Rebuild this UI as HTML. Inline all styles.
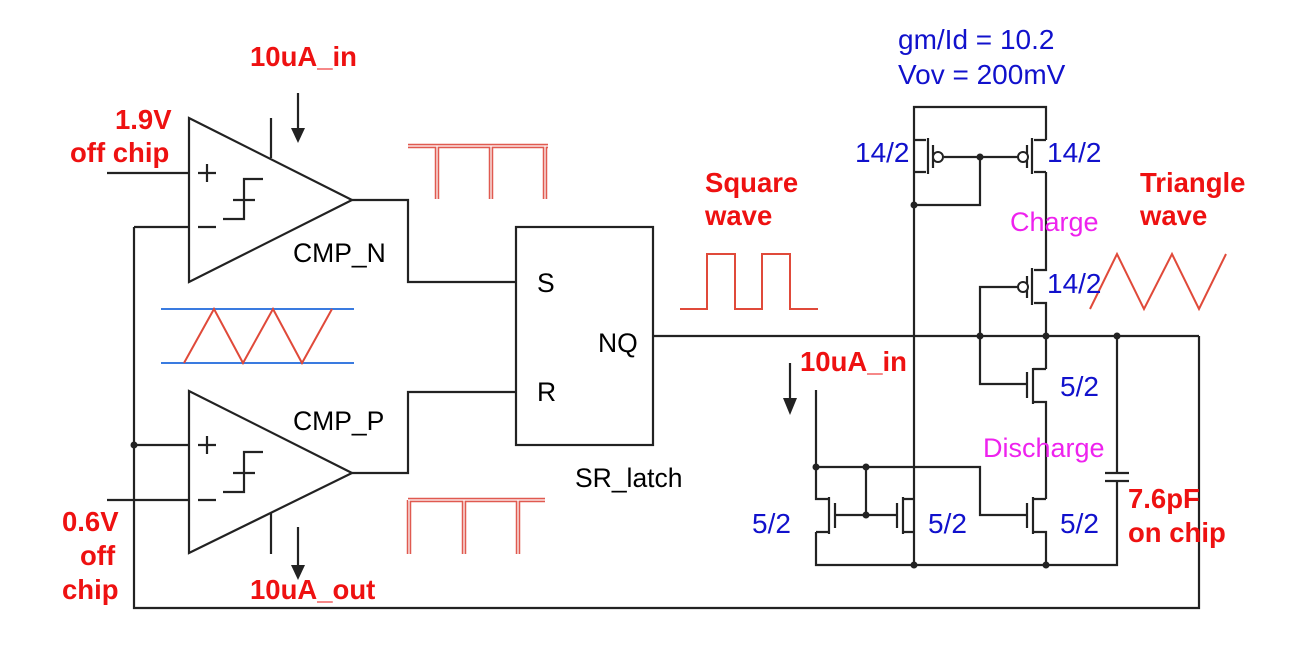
<!DOCTYPE html>
<html><head><meta charset="utf-8"><style>
html,body{margin:0;padding:0;background:#fff;}
svg{display:block;}
.t{font-family:"Liberation Sans",sans-serif;}
.r{fill:#ee1111;font-weight:bold;font-size:27.5px;}
.b{fill:#1111cc;font-size:28px;}
.m{fill:#ee22ee;font-size:27px;}
.k{fill:#000;font-size:26.5px;}
</style></head><body>
<svg width="1297" height="645" viewBox="0 0 1297 645" xmlns="http://www.w3.org/2000/svg">
<rect width="1297" height="645" fill="#fff"/>
<g fill="none" stroke="#222" stroke-width="2.2">
<polygon points="189,118 189,282 352,200"/>
<polygon points="189,391 189,553 352,473"/>
<path d="M107,173H189 M134,227H189 M134,227V608H1199V336"/>
<path d="M134,445H189 M107,500H189"/>
<path d="M198,173H216 M207,164V182 M198,227H216"/>
<path d="M198,445H216 M207,436V454 M198,500H216"/>
<path d="M223,219H244V179H263 M233,200H255"/>
<path d="M223,492H244V452H263 M233,473H255"/>
<path d="M271,118V158 M271,513V554"/>
<path d="M298,93V130 M298,527V567"/>
<path d="M352,200H408V282H516 M352,473H408V392H516"/>
<rect x="516" y="227" width="137" height="218"/>
<path d="M653,336H1199"/>
<path d="M914,172V107H1046V140 M914,140V107"/>
<path d="M914,140H926 M914,172H926 M914,172V565 M928,138V174 M933,145V168"/>
<path d="M1046,140H1034 M1046,172H1034 M1032,138V174 M1027,145V168"/>
<path d="M944,157H1018 M980,157V205H914"/>
<path d="M1046,172V270H1034 M1032,268V305 M1027,276V298 M1034,303H1046V369"/>
<path d="M1018,287H980V384H1027 M1027,372V398 M1033,368V404 M1033,369H1046 M1033,402H1046V499"/>
<path d="M1033,499H1046 M1033,532H1046V565 M1033,497V534 M1027,503V528"/>
<path d="M816,467H980V515H1027"/>
<path d="M816,390V499H829 M816,532H829 M816,532V565H1117V481 M829,497V534 M835,503V528"/>
<path d="M835,515H897 M866,467V515 M897,503V528 M903,497V534 M903,499H914 M903,532H914"/>
<path d="M1117,336V473 M1105,473H1129 M1105,481H1129"/>
<path d="M790,363V400"/>
</g>
<g fill="#222">
<circle cx="938" cy="157" r="5" fill="#fff" stroke="#222" stroke-width="2"/>
<circle cx="1023" cy="157" r="5" fill="#fff" stroke="#222" stroke-width="2"/>
<circle cx="1023" cy="287" r="5" fill="#fff" stroke="#222" stroke-width="2"/>
<circle cx="980" cy="157" r="3.5"/><circle cx="914" cy="205" r="3.5"/>
<circle cx="980" cy="336" r="3.5"/><circle cx="1046" cy="336" r="3.5"/><circle cx="1117" cy="336" r="3.5"/>
<circle cx="816" cy="467" r="3.5"/><circle cx="866" cy="467" r="3.5"/><circle cx="866" cy="515" r="3.5"/>
<circle cx="914" cy="565" r="3.5"/><circle cx="1046" cy="565" r="3.5"/><circle cx="134" cy="445" r="3.5"/>
<polygon points="291,128 305,128 298,143"/>
<polygon points="291,565 305,565 298,580"/>
<polygon points="783,398 797,398 790,415"/>
</g>
<g fill="none" stroke="#3a7be0" stroke-width="2"><path d="M161,309H354 M161,363H354"/></g>
<g fill="none" stroke="#e04a3a" stroke-width="2">
<path d="M184,363L214,309L243,363L273,309L302,363L332,309"/>
<path d="M680,309H707V254H735V309H762V254H790V309H818"/>
<path d="M1090,309L1117,254L1144,309L1172,254L1199,309L1226,254"/>
</g>
<g fill="none" stroke="#e05a50" stroke-width="4.5"><path d="M408,146H548 M437,146V199 M491,146V199 M545,146V199 M408,500H545 M409,500V554 M464,500V554 M518,500V554"/></g>
<g fill="none" stroke="#fff" stroke-width="1.2"><path d="M408,146H548 M437,146V199 M491,146V199 M545,146V199 M408,500H545 M409,500V554 M464,500V554 M518,500V554"/></g>
<g class="t">
<text class="r" x="250" y="66">10uA_in</text>
<text class="r" x="115" y="129">1.9V</text>
<text class="r" x="70" y="162">off chip</text>
<text class="r" x="62" y="531">0.6V</text>
<text class="r" x="80" y="565">off</text>
<text class="r" x="62" y="599">chip</text>
<text class="r" x="250" y="599">10uA_out</text>
<text class="r" x="705" y="192">Square</text>
<text class="r" x="705" y="225">wave</text>
<text class="r" x="1140" y="192">Triangle</text>
<text class="r" x="1140" y="225">wave</text>
<text class="r" x="800" y="371">10uA_in</text>
<text class="r" x="1128" y="508">7.6pF</text>
<text class="r" x="1128" y="542">on chip</text>
<text class="k" x="293" y="262">CMP_N</text>
<text class="k" x="293" y="430">CMP_P</text>
<text class="k" x="537" y="292">S</text>
<text class="k" x="537" y="401">R</text>
<text class="k" x="598" y="352">NQ</text>
<text class="k" x="575" y="487">SR_latch</text>
<text class="b" x="898" y="49">gm/Id = 10.2</text>
<text class="b" x="898" y="84">Vov = 200mV</text>
<text class="b" x="855" y="162">14/2</text>
<text class="b" x="1047" y="162">14/2</text>
<text class="b" x="1047" y="293">14/2</text>
<text class="b" x="1060" y="396">5/2</text>
<text class="b" x="1060" y="533">5/2</text>
<text class="b" x="928" y="533">5/2</text>
<text class="b" x="752" y="533">5/2</text>
<text class="m" x="1010" y="231">Charge</text>
<text class="m" x="983" y="457">Discharge</text>
</g>
</svg>
</body></html>
